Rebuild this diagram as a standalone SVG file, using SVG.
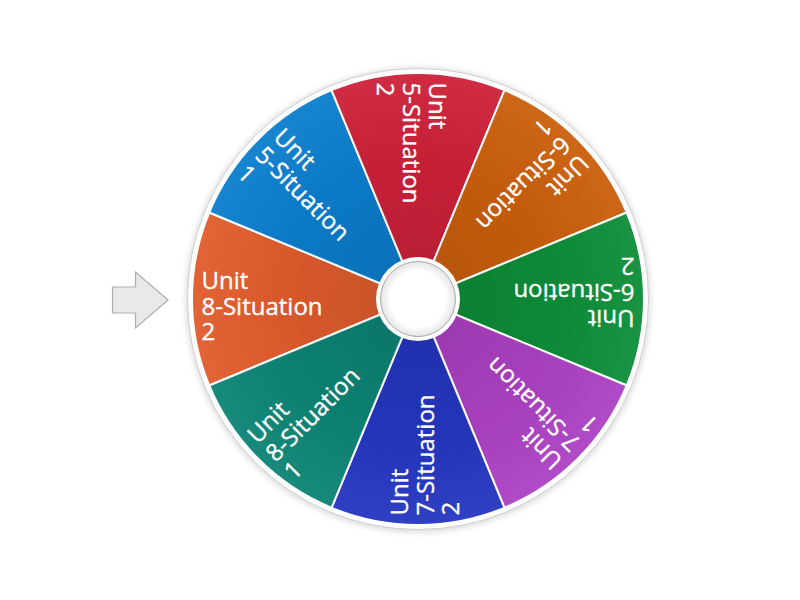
<svg xmlns="http://www.w3.org/2000/svg" width="800" height="600" viewBox="0 0 800 600">
<defs>
<style>
.seg{stroke:#ffffff;stroke-width:2;stroke-linejoin:round}
.shd{fill:url(#shade)}
.lbl{font-family:"Open Sans","Noto Sans","DejaVu Sans",sans-serif;font-size:24px;fill:#ffffff;stroke:#ffffff;stroke-width:0.35}
</style>
<filter id="sh" x="-20%" y="-20%" width="140%" height="140%">
<feGaussianBlur stdDeviation="3"/>
</filter>
<radialGradient id="shade" gradientUnits="userSpaceOnUse" cx="418" cy="299" r="226">
<stop offset="0" stop-color="#000" stop-opacity="0.12"/>
<stop offset="0.6" stop-color="#000" stop-opacity="0.04"/>
<stop offset="1" stop-color="#fff" stop-opacity="0.05"/>
</radialGradient>
<radialGradient id="hubg" gradientUnits="userSpaceOnUse" cx="418" cy="299" r="37">
<stop offset="0.75" stop-color="#ffffff"/>
<stop offset="1" stop-color="#e6e6e6"/>
</radialGradient>
<path id="wedge" d="M418,299 L209.2,212.51 A226,226 0 0 0 209.2,385.49 Z"/>
</defs>
<rect width="800" height="600" fill="#ffffff"/>
<g id="pointer">
<path d="M112.5,287 L135.5,287 L135.5,272 L168,300 L135.5,328 L135.5,313 L112.5,313 Z" fill="#e9e9e9" stroke="#adadad" stroke-width="1.2" stroke-linejoin="miter"/>
</g>
<g id="rim">
<circle cx="418" cy="300" r="232" fill="#b8b8b8" opacity="0.55" filter="url(#sh)"/>
<circle cx="418" cy="299" r="230.5" fill="#ffffff" stroke="#cfcfcf" stroke-width="1"/>
</g>
<g id="seg-u8s2">
<use href="#wedge" class="seg" fill="#e05c2d"/>
<use href="#wedge" class="shd"/>
<text class="lbl" x="201.5" y="288.5">Unit</text>
<text class="lbl" x="201.5" y="314.5">8-Situation</text>
<text class="lbl" x="201.5" y="340">2</text>
</g>
<g id="seg-u5s1" transform="rotate(45 418 299)">
<use href="#wedge" class="seg" fill="#0b7ecd"/>
<use href="#wedge" class="shd"/>
<text class="lbl" x="201.5" y="288.5">Unit</text>
<text class="lbl" x="201.5" y="314.5">5-Situation</text>
<text class="lbl" x="201.5" y="340">1</text>
</g>
<g id="seg-u5s2" transform="rotate(90 418 299)">
<use href="#wedge" class="seg" fill="#cd213a"/>
<use href="#wedge" class="shd"/>
<text class="lbl" x="201.5" y="288.5">Unit</text>
<text class="lbl" x="201.5" y="314.5">5-Situation</text>
<text class="lbl" x="201.5" y="340">2</text>
</g>
<g id="seg-u6s1" transform="rotate(135 418 299)">
<use href="#wedge" class="seg" fill="#cb5f0c"/>
<use href="#wedge" class="shd"/>
<text class="lbl" x="201.5" y="288.5">Unit</text>
<text class="lbl" x="201.5" y="314.5">6-Situation</text>
<text class="lbl" x="201.5" y="340">1</text>
</g>
<g id="seg-u6s2" transform="rotate(180 418 299)">
<use href="#wedge" class="seg" fill="#0d8e38"/>
<use href="#wedge" class="shd"/>
<text class="lbl" x="201.5" y="288.5">Unit</text>
<text class="lbl" x="201.5" y="314.5">6-Situation</text>
<text class="lbl" x="201.5" y="340">2</text>
</g>
<g id="seg-u7s1" transform="rotate(225 418 299)">
<use href="#wedge" class="seg" fill="#ad41c4"/>
<use href="#wedge" class="shd"/>
<text class="lbl" x="201.5" y="288.5">Unit</text>
<text class="lbl" x="201.5" y="314.5">7-Situation</text>
<text class="lbl" x="201.5" y="340">1</text>
</g>
<g id="seg-u7s2" transform="rotate(270 418 299)">
<use href="#wedge" class="seg" fill="#2436c0"/>
<use href="#wedge" class="shd"/>
<text class="lbl" x="201.5" y="288.5">Unit</text>
<text class="lbl" x="201.5" y="314.5">7-Situation</text>
<text class="lbl" x="201.5" y="340">2</text>
</g>
<g id="seg-u8s1" transform="rotate(315 418 299)">
<use href="#wedge" class="seg" fill="#0c8474"/>
<use href="#wedge" class="shd"/>
<text class="lbl" x="201.5" y="288.5">Unit</text>
<text class="lbl" x="201.5" y="314.5">8-Situation</text>
<text class="lbl" x="201.5" y="340">1</text>
</g>
<g id="hub">
<circle cx="418" cy="299" r="42" fill="#ffffff"/>
<circle cx="418" cy="299" r="37.5" fill="url(#hubg)" stroke="#a9a9a9" stroke-width="1"/>
</g>
</svg>
